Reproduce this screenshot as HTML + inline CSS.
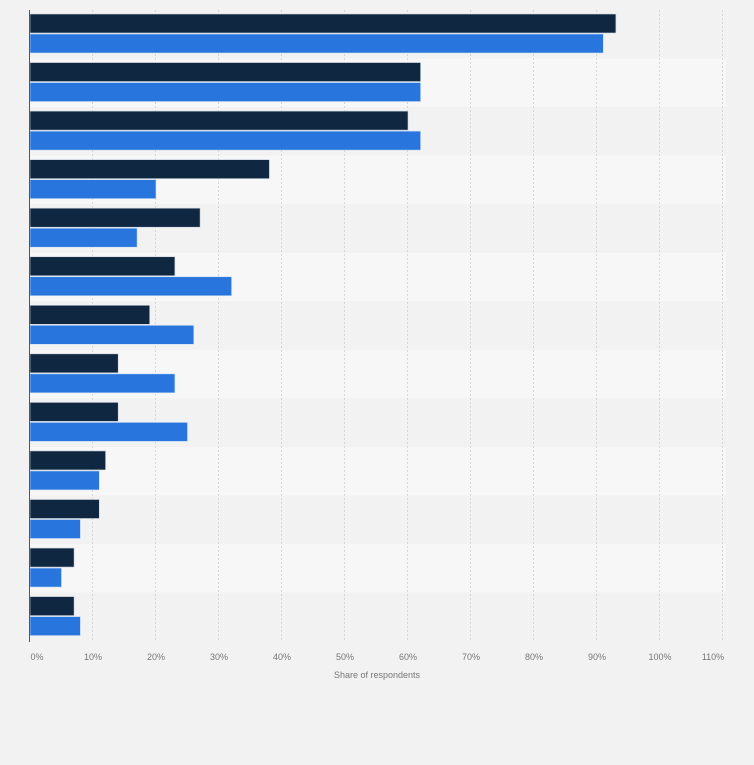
<!DOCTYPE html>
<html><head><style>
body{margin:0;background:#f2f2f2;width:754px;height:760px;overflow:hidden;font-family:"Liberation Sans",sans-serif}
</style></head><body>
<svg width="754" height="760" xmlns="http://www.w3.org/2000/svg">
<rect width="754" height="760" fill="#f2f2f2"/>
<g id="bands"></g>
<g id="grid"></g>
<g id="bars"></g>
<line x1="29.5" y1="10" x2="29.5" y2="642" stroke="#555" stroke-width="1"/>
<g id="ticks" font-size="9" fill="#777" text-anchor="middle"></g>
<text x="377" y="678" font-size="9" fill="#777" text-anchor="middle">Share of respondents</text>
</svg>
<script>
(function(){
var ns="http://www.w3.org/2000/svg";
function el(p,t,a,txt){var e=document.createElementNS(ns,t);for(var k in a)e.setAttribute(k,a[k]);if(txt!=null)e.textContent=txt;document.getElementById(p).appendChild(e);}
var x0=30,s=6.3,t0=10,rh=48.55;
var d=[[93,91],[62,62],[60,62],[38,20],[27,17],[23,32],[19,26],[14,23],[14,25],[12,11],[11,8],[7,5],[7,8]];
d.forEach(function(v,i){var y=t0+i*rh;
el("bands","rect",{x:30,y:y,width:696,height:rh,fill:i%2?"#f7f7f7":"#f2f2f2"});
el("bars","rect",{x:30,y:y+4,width:v[0]*s,height:19,fill:"#0f2740",stroke:"#cfd6de","stroke-width":0.6});
el("bars","rect",{x:30,y:y+24,width:v[1]*s,height:19,fill:"#2876dd",stroke:"#cfe0f5","stroke-width":0.6});
});
for(var k=1;k<=11;k++){var x=x0+k*10*s-0.5;el("grid","line",{x1:x,y1:10,x2:x,y2:642,stroke:"#d6d6d6","stroke-dasharray":"2,2"});}
for(var j=0;j<=11;j++){var xx=x0+j*10*s+(j==0?7:0);if(j==11)xx=713;el("ticks","text",{x:xx,y:660},(j*10)+"%");}
})();
</script>
</body></html>
